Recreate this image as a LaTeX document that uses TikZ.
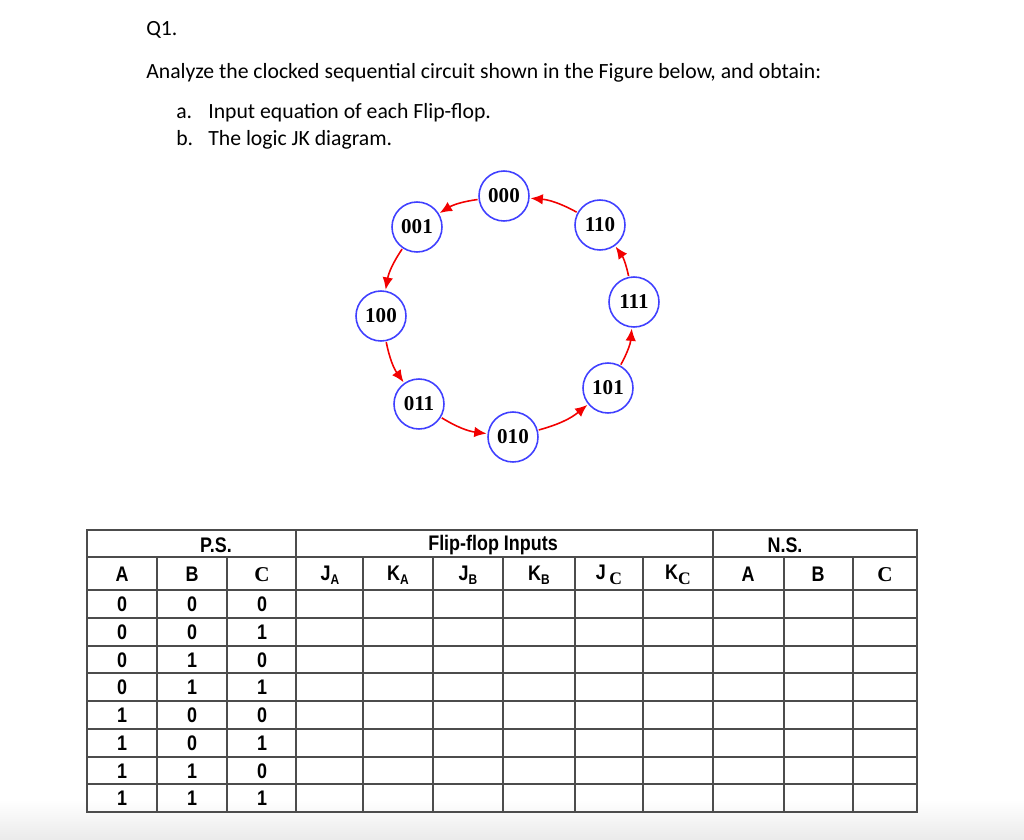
\documentclass[tikz,border=0pt]{standalone}
\usepackage{fontspec}
\setmainfont{Carlito}
\newfontfamily\tabfont[FakeStretch=0.85]{Liberation Sans}
\newfontfamily\serfont{Liberation Serif}
\usetikzlibrary{arrows.meta}
\begin{document}
\begin{tikzpicture}[x=0.02cm, y=-0.02cm,
    state/.style={circle, draw=blue!75!white, line width=0.9pt, minimum size=1cm, inner sep=0pt,
        font=\serfont\bfseries\fontsize{12}{14}\selectfont},
    trans/.style={red!95!black, line width=0.9pt, -{Latex[length=7pt,width=6pt]}, shorten >=0.5pt, shorten <=0.5pt},
    txt/.style={anchor=base west, inner sep=0pt, font=\fontsize{12.35}{14}\selectfont},
    cell/.style={inner sep=0pt, font=\tabfont\bfseries\fontsize{12}{14}\selectfont},
    grid/.style={black!70, line width=0.6pt}]
\useasboundingbox (0,0) rectangle (1024,839);
\shade[top color=white, bottom color=black!8] (0,800) rectangle (1024,839);
% question text
\node[txt] (q) at (146,35) {Q1.};
\node[txt] (task) at (146,78) {Analyze the clocked sequential circuit shown in the Figure below, and obtain:};
\node[txt] (ia) at (176,118) {a.};
\node[txt] (ta) at (208,118) {Input equation of each Flip-flop.};
\node[txt] (ib) at (176,145) {b.};
\node[txt] (tb) at (208,145) {The logic JK diagram.};
% state diagram
\node[state] (s000) at (504,196) {000};
\node[state] (s001) at (417,227) {001};
\node[state] (s100) at (381,316) {100};
\node[state] (s011) at (419,404) {011};
\node[state] (s010) at (513,437) {010};
\node[state] (s101) at (608,388) {101};
\node[state] (s111) at (634,302) {111};
\node[state] (s110) at (600,225) {110};
\draw[trans] (s000) to[bend right=12] (s001);
\draw[trans] (s001) to[bend right=12] (s100);
\draw[trans] (s100) to[bend right=12] (s011);
\draw[trans] (s011) to[bend right=12] (s010);
\draw[trans] (s010) to[bend right=12] (s101);
\draw[trans] (s101) to[bend right=12] (s111);
\draw[trans] (s111) to[bend right=12] (s110);
\draw[trans] (s110) to[bend right=12] (s000);
% table lines
\draw[grid] (87,530) rectangle (917,812);
\draw[grid] (87,557) -- (917,557);
\draw[grid] (87,590) -- (917,590);
\draw[grid] (87,618) -- (917,618);
\draw[grid] (87,646) -- (917,646);
\draw[grid] (87,673) -- (917,673);
\draw[grid] (87,701) -- (917,701);
\draw[grid] (87,729) -- (917,729);
\draw[grid] (87,757) -- (917,757);
\draw[grid] (87,784) -- (917,784);
\draw[grid] (296,530) -- (296,812);
\draw[grid] (713,530) -- (713,812);
\draw[grid] (157,557) -- (157,812);
\draw[grid] (227,557) -- (227,812);
\draw[grid] (363,557) -- (363,812);
\draw[grid] (433,557) -- (433,812);
\draw[grid] (503,557) -- (503,812);
\draw[grid] (575,557) -- (575,812);
\draw[grid] (643,557) -- (643,812);
\draw[grid] (784,557) -- (784,812);
\draw[grid] (853,557) -- (853,812);
% table headers
\node[cell] (ps) at (216,545) {P.S.};
\node[cell] (ffin) at (493,545) {Flip-flop Inputs};
\node[cell] (ns) at (785,545) {N.S.};
\node[cell] (hA) at (122,574) {A};
\node[cell] (hB) at (192,574) {B};
\node[cell, font=\serfont\bfseries\fontsize{12}{14}\selectfont] (hC) at (262,575) {C};
\node[cell] (hJA) at (330,575) {J\raisebox{-0.4ex}{\fontsize{8}{9}\selectfont A}};
\node[cell] (hKA) at (398,575) {K\raisebox{-0.4ex}{\fontsize{8}{9}\selectfont A}};
\node[cell] (hJB) at (468,575) {J\raisebox{-0.4ex}{\fontsize{8}{9}\selectfont B}};
\node[cell] (hKB) at (539,575) {K\raisebox{-0.4ex}{\fontsize{8}{9}\selectfont B}};
\node[cell] (hJC) at (609,575) {J\,\raisebox{-0.4ex}{\serfont\fontsize{10}{11}\selectfont C}};
\node[cell] (hKC) at (678,575) {K\raisebox{-0.4ex}{\serfont\fontsize{10}{11}\selectfont C}};
\node[cell] (nA) at (748,574) {A};
\node[cell] (nB) at (818,574) {B};
\node[cell, font=\serfont\bfseries\fontsize{12}{14}\selectfont] (nC) at (885,575) {C};
% present states
\node[cell] (a1) at (122,604) {0}; \node[cell] (b1) at (192,604) {0}; \node[cell] (c1) at (262,604) {0};
\node[cell] (a2) at (122,632) {0}; \node[cell] (b2) at (192,632) {0}; \node[cell] (c2) at (262,632) {1};
\node[cell] (a3) at (122,660) {0}; \node[cell] (b3) at (192,660) {1}; \node[cell] (c3) at (262,660) {0};
\node[cell] (a4) at (122,687) {0}; \node[cell] (b4) at (192,687) {1}; \node[cell] (c4) at (262,687) {1};
\node[cell] (a5) at (122,715) {1}; \node[cell] (b5) at (192,715) {0}; \node[cell] (c5) at (262,715) {0};
\node[cell] (a6) at (122,743) {1}; \node[cell] (b6) at (192,743) {0}; \node[cell] (c6) at (262,743) {1};
\node[cell] (a7) at (122,771) {1}; \node[cell] (b7) at (192,771) {1}; \node[cell] (c7) at (262,771) {0};
\node[cell] (a8) at (122,798) {1}; \node[cell] (b8) at (192,798) {1}; \node[cell] (c8) at (262,798) {1};
\end{tikzpicture}
\end{document}
